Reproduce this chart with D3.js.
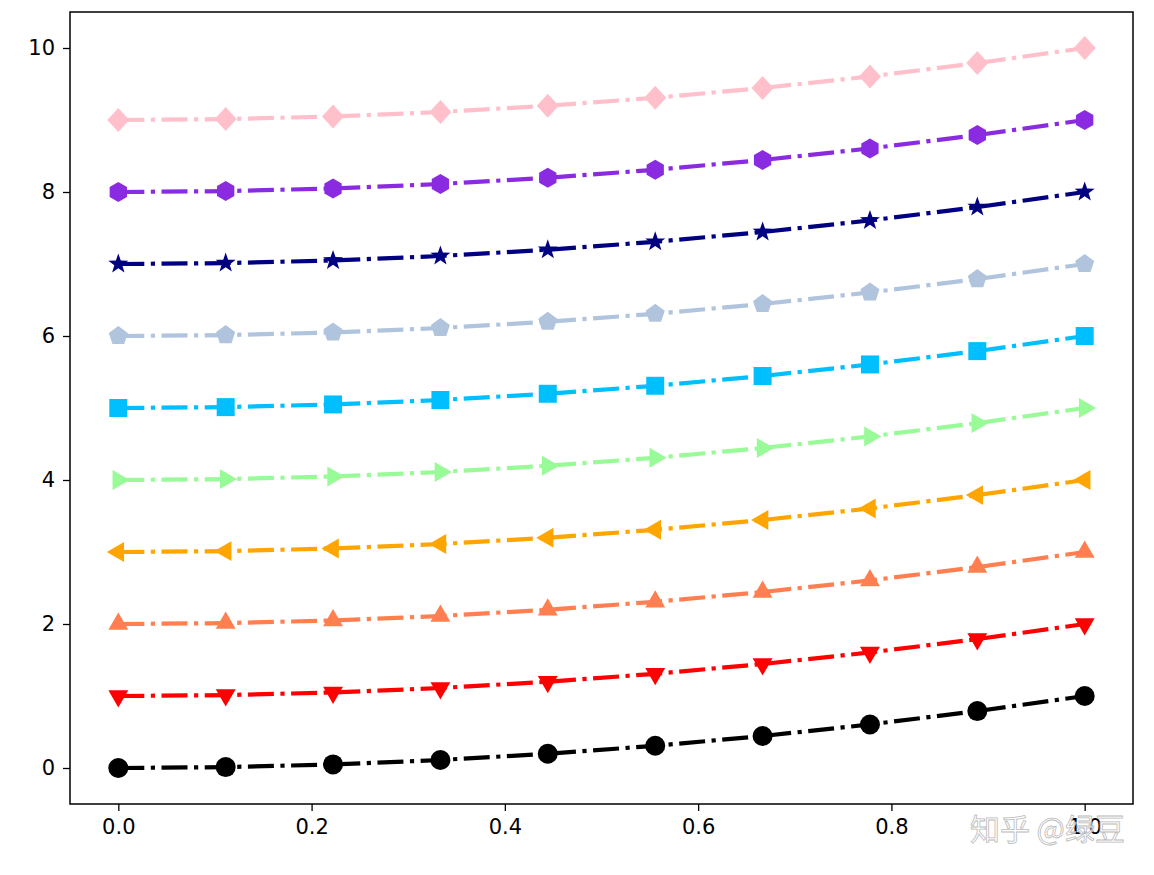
<!DOCTYPE html>
<html><head><meta charset="utf-8">
<script src="https://cdn.jsdelivr.net/npm/d3@7"></script>
<style>body{margin:0;background:#fff}</style></head>
<body><svg id="c" width="1154" height="875"></svg>
<script>
const xs = [0, 0.1111, 0.2222, 0.3333, 0.4444, 0.5556, 0.6667, 0.7778, 0.8889, 1.0];
const base = [0, 0.0123, 0.0494, 0.1111, 0.1975, 0.3086, 0.4444, 0.6049, 0.7901, 1.0];
const offsets = [0,1,2,3,4,5,6,7,8,9];
const colors = ["black","red","coral","orange","palegreen","deepskyblue","lightsteelblue","navy","blueviolet","pink"];
const markers = ["circle","tdown","tup","tleft","tright","square","pentagon","star","hexagon","diamond"];
const xTicks = [0,0.2,0.4,0.6,0.8,1.0];
const yTicks = [0,2,4,6,8,10];

const svg = d3.select("#c");
const L=70,R=1133,T=12,B=804;
const x = d3.scaleLinear().domain([-0.05,1.05]).range([L,R]);
const y = d3.scaleLinear().domain([-0.5,10.5]).range([B,T]);

function poly(n, r, rot){const p=[];for(let i=0;i<n;i++){const a=rot+i*2*Math.PI/n;p.push([r*Math.sin(a),-r*Math.cos(a)]);}return p;}
function markerPath(m){
  const r=10;
  let pts;
  switch(m){
    case "circle": return d3.symbol(d3.symbolCircle, Math.PI*r*r)();
    case "tdown": pts=poly(3,r*1.15,Math.PI); break;
    case "tup": pts=poly(3,r*1.15,0); break;
    case "tleft": pts=poly(3,r*1.15,-Math.PI/2); break;
    case "tright": pts=poly(3,r*1.15,Math.PI/2); break;
    case "square": pts=[[-9,-9],[9,-9],[9,9],[-9,9]]; break;
    case "pentagon": pts=poly(5,r,0); break;
    case "hexagon": pts=poly(6,r,0); break;
    case "diamond": pts=[[0,-12],[11,0],[0,12],[-11,0]]; break;
    case "star": pts=[];for(let i=0;i<10;i++){const a=i*Math.PI/5;const rr=i%2?r*0.42:r*1.05;pts.push([rr*Math.sin(a),-rr*Math.cos(a)]);} break;
  }
  return "M"+pts.map(p=>p.join(",")).join("L")+"Z";
}

const line = d3.line().x(d=>x(d[0])).y(d=>y(d[1]));
offsets.forEach((o,i)=>{
  const data = xs.map((v,j)=>[v, base[j]+o]);
  svg.append("path").attr("d",line(data)).attr("fill","none").attr("stroke",colors[i])
    .attr("stroke-width",4.2).attr("stroke-dasharray","26,6.5,4.2,6.5");
  svg.selectAll(null).data(data).enter().append("path")
    .attr("d",markerPath(markers[i])).attr("fill",colors[i])
    .attr("transform",d=>`translate(${x(d[0])},${y(d[1])})`);
});

const ax = svg.append("g").attr("transform",`translate(0,${B})`)
  .call(d3.axisBottom(x).tickValues(xTicks).tickFormat(d3.format(".1f")).tickSize(7).tickPadding(8));
const ay = svg.append("g").attr("transform",`translate(${L},0)`)
  .call(d3.axisLeft(y).tickValues(yTicks).tickFormat(d3.format("d")).tickSize(7).tickPadding(8));
[ax,ay].forEach(g=>{g.select(".domain").remove();g.selectAll("text").attr("font-family","DejaVu Sans").attr("font-size",21).attr("fill","#000");g.selectAll("line").attr("stroke","#000").attr("stroke-width",1.3);});
svg.append("rect").attr("x",L).attr("y",T).attr("width",R-L).attr("height",B-T).attr("fill","none").attr("stroke","#000").attr("stroke-width",1.5);
svg.append("text").attr("x",1125).attr("y",840).attr("text-anchor","end").attr("font-family","Noto Sans CJK SC").attr("font-size",30)
  .attr("fill","#fff").attr("fill-opacity",0.75).attr("stroke","#bbb").attr("stroke-width",0.8).text("知乎 @绿豆");
</script></body></html>
